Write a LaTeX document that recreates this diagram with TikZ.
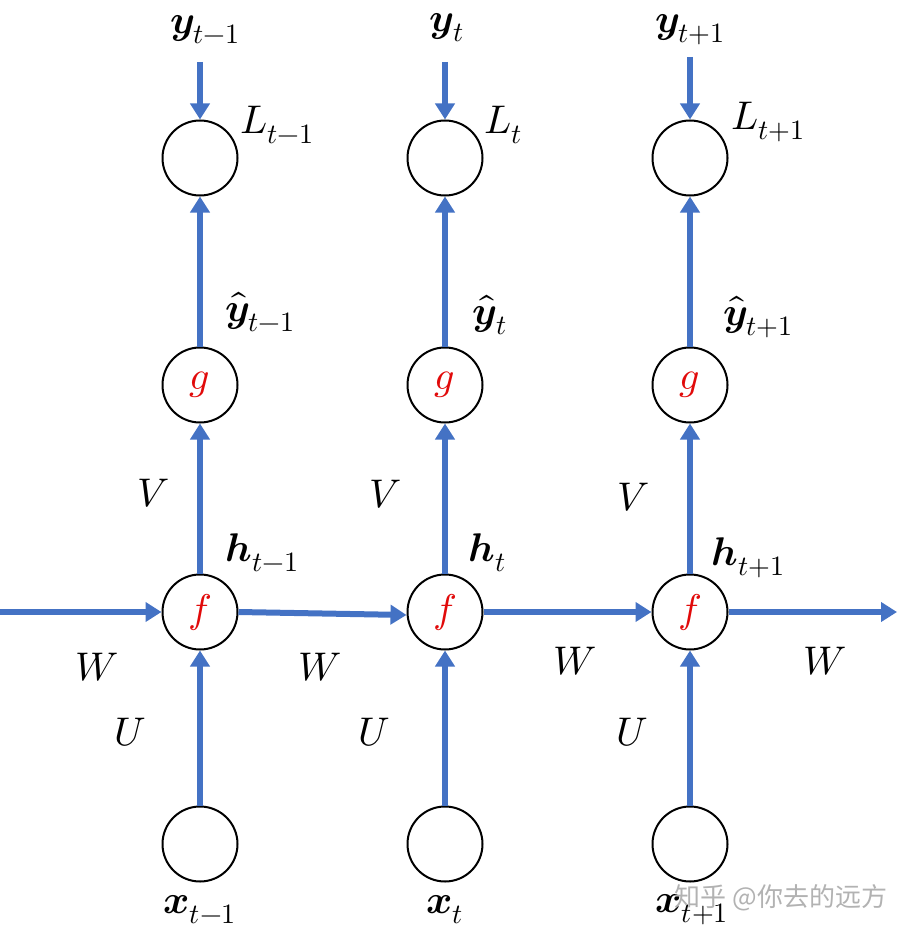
\documentclass[tikz,border=0pt]{standalone}
\usepackage{amsmath}
\usepackage{unicode-math}
\setmathfont{Latin Modern Math}
\newfontfamily\cjk{Noto Sans CJK SC}
\usetikzlibrary{arrows.meta}

\definecolor{lineblue}{RGB}{68,114,196}
\definecolor{fred}{RGB}{225,10,10}
\newcommand{\bigmath}{\fontsize{40}{46}\selectfont}

\tikzset{
  unit/.style={circle, draw=black, line width=2pt, minimum size=75pt, inner sep=0pt, font=\bigmath},
  flow/.style={draw=lineblue, line width=6pt, -{Triangle[width=19pt,length=16pt]}},
  lbl/.style={font=\bigmath, inner sep=0pt}
}

\begin{document}
\begin{tikzpicture}[x=1pt, y=-1pt]
  \useasboundingbox (0,0) rectangle (915,936);

  % units of the three time steps
  \node[unit] (L1) at (200,158) {};
  \node[unit] (L2) at (445,158) {};
  \node[unit] (L3) at (690,158) {};
  \node[unit] (g1) at (200,385) {$\color{fred}g$};
  \node[unit] (g2) at (445,385) {$\color{fred}g$};
  \node[unit] (g3) at (690,385) {$\color{fred}g$};
  \node[unit] (f1) at (200,612) {$\color{fred}f$};
  \node[unit] (f2) at (445,612) {$\color{fred}f$};
  \node[unit] (f3) at (690,612) {$\color{fred}f$};
  \node[unit] (x1) at (200,844) {};
  \node[unit] (x2) at (445,844) {};
  \node[unit] (x3) at (690,844) {};

  % free ends
  \coordinate (y1) at (200,62);
  \coordinate (y2) at (445,62);
  \coordinate (y3) at (690,57);
  \coordinate (hin) at (0,612);
  \coordinate (hout) at (897,612);

  % connections
  \draw[flow] (y1) -- (L1.north);
  \draw[flow] (y2) -- (L2.north);
  \draw[flow] (y3) -- (L3.north);
  \draw[flow] (g1) -- (L1);
  \draw[flow] (g2) -- (L2);
  \draw[flow] (g3) -- (L3);
  \draw[flow] (f1) -- (g1);
  \draw[flow] (f2) -- (g2);
  \draw[flow] (f3) -- (g3);
  \draw[flow] (x1) -- (f1);
  \draw[flow] (x2) -- (f2);
  \draw[flow] (x3) -- (f3);
  \draw[flow] (hin) -- (f1.west);
  \draw[flow] (f1.east) -- ([yshift=-3pt]f2.west);
  \draw[flow] (f2) -- (f3);
  \draw[flow] (f3.east) -- (hout);

  % labels
  \node[lbl] (ly1) at (205,30) {$\symbfit{y}_{t-1}$};
  \node[lbl] (ly2) at (447,28) {$\symbfit{y}_{t}$};
  \node[lbl] (ly3) at (690,30) {$\symbfit{y}_{t+1}$};
  \node[lbl] (lL1) at (277,125) {$L_{t-1}$};
  \node[lbl] (lL2) at (503,125) {$L_{t}$};
  \node[lbl] (lL3) at (768,122) {$L_{t+1}$};
  \node[lbl] (lh1) at (260,312) {$\widehat{\symbfit{y}}_{t-1}$};
  \node[lbl] (lh2) at (490,315) {$\widehat{\symbfit{y}}_{t}$};
  \node[lbl] (lh3) at (758,317) {$\widehat{\symbfit{y}}_{t+1}$};
  \node[lbl] (lV1) at (153,493) {$V$};
  \node[lbl] (lV2) at (385,494) {$V$};
  \node[lbl] (lV3) at (633,497) {$V$};
  \node[lbl] (ls1) at (262,553) {$\symbfit{h}_{t-1}$};
  \node[lbl] (ls2) at (487,553) {$\symbfit{h}_{t}$};
  \node[lbl] (ls3) at (748,558) {$\symbfit{h}_{t+1}$};
  \node[lbl] (lW1) at (97,667) {$W$};
  \node[lbl] (lW2) at (320,667) {$W$};
  \node[lbl] (lW3) at (575,661) {$W$};
  \node[lbl] (lW4) at (825,661) {$W$};
  \node[lbl] (lU1) at (130,732) {$U$};
  \node[lbl] (lU2) at (374,732) {$U$};
  \node[lbl] (lU3) at (632,732) {$U$};
  \node[lbl] (lx1) at (200,910) {$\symbfit{x}_{t-1}$};
  \node[lbl] (lx2) at (445,910) {$\symbfit{x}_{t}$};
  \node[lbl] (lx3) at (692,910) {$\symbfit{x}_{t+1}$};

  % watermark
  \node[text=black!30, font=\cjk\fontsize{26}{30}\selectfont, inner sep=0pt] (mark) at (781,898) {知乎 @你去的远方};
\end{tikzpicture}
\end{document}
